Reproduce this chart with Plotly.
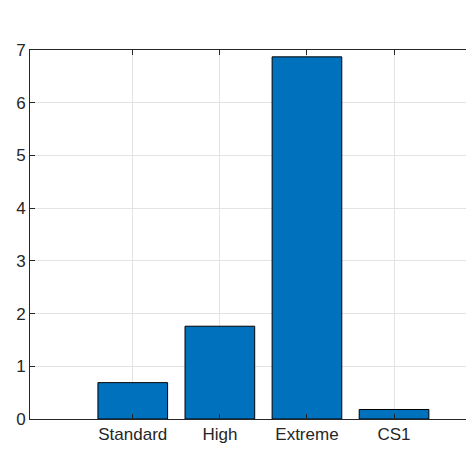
import plotly.graph_objects as go

categories = ["Standard", "High", "Extreme", "CS1"]
values = [0.69, 1.76, 6.87, 0.18]

xpos = [1, 2, 3, 4]
fig = go.Figure(go.Bar(x=xpos, y=values, width=0.8,
                       marker=dict(color="#0072BD", line=dict(color="black", width=1))))
fig.update_layout(
    width=474, height=474, paper_bgcolor="white", plot_bgcolor="white",
    margin=dict(l=22, r=0, t=42, b=63, autoexpand=False), showlegend=False,
    font=dict(family="Liberation Sans, Arial", size=17, color="#262626"),
)
fig.update_xaxes(range=[-0.18, 5.01], tickvals=xpos, ticktext=categories, automargin=False,
                 showgrid=True, gridcolor="#e3e3e3", showline=True, linecolor="#262626",
                 ticks="inside", ticklen=5, tickcolor="#262626", mirror="ticks", zeroline=False)
fig.update_yaxes(range=[0, 7], dtick=1, showgrid=True, gridcolor="#e3e3e3", automargin=False,
                 showline=True, linecolor="#262626", ticks="inside", ticklen=5,
                 tickcolor="#262626", zeroline=False)
fig.write_html("out.html")
